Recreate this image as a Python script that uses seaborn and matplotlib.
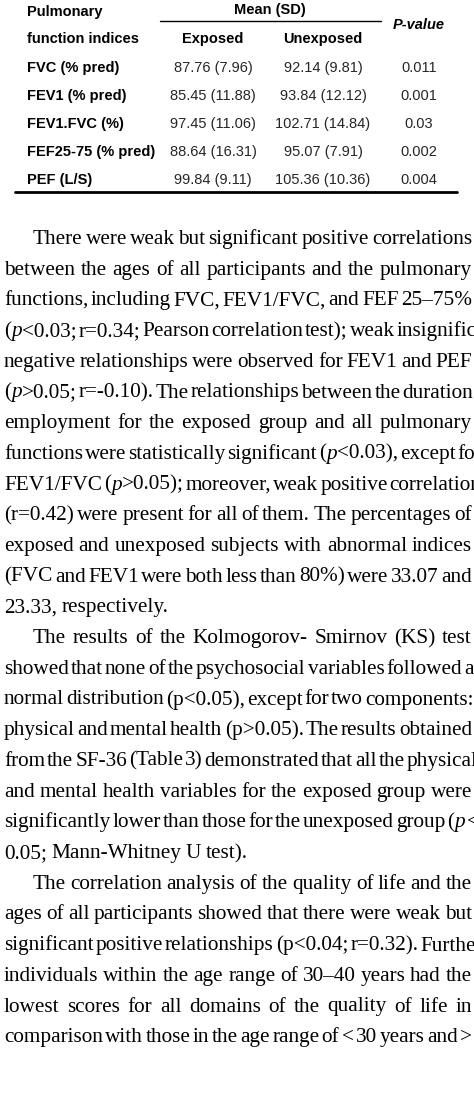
import numpy as np
import pandas as pd
import seaborn as sns
import matplotlib.pyplot as plt

# table data
indices = ["FVC (% pred)", "FEV1 (% pred)", "FEV1.FVC (%)", "FEF25-75 (% pred)", "PEF (L/S)"]
exposed = ["87.76 (7.96)", "85.45 (11.88)", "97.45 (11.06)", "88.64 (16.31)", "99.84 (9.11)"]
unexposed = ["92.14 (9.81)", "93.84 (12.12)", "102.71 (14.84)", "95.07 (7.91)", "105.36 (10.36)"]
pvalues = ["0.011", "0.001", "0.03", "0.002", "0.004"]

# body text lines: (text, indent, justify); *x* = italic
lines = [
    ("There were weak but significant positive correlations", True, True),
    ("between the ages of all participants and the pulmonary", False, True),
    ("functions, including FVC, FEV1/FVC, and FEF 25–75%", False, True),
    ("(*p*<0.03; r=0.34; Pearson correlation test); weak insignificant", False, True),
    ("negative relationships were observed for FEV1 and PEF", False, True),
    ("(*p*>0.05; r=-0.10). The relationships between the duration of", False, True),
    ("employment for the exposed group and all pulmonary", False, True),
    ("functions were statistically significant (*p*<0.03), except for", False, True),
    ("FEV1/FVC (*p*>0.05); moreover, weak positive correlations", False, True),
    ("(r=0.42) were present for all of them. The percentages of", False, True),
    ("exposed and unexposed subjects with abnormal indices", False, True),
    ("(FVC and FEV1 were both less than 80%) were 33.07 and", False, True),
    ("23.33, respectively.", False, False),
    ("The results of the Kolmogorov- Smirnov (KS) test", True, True),
    ("showed that none of the psychosocial variables followed a", False, True),
    ("normal distribution (p<0.05), except for two components:", False, True),
    ("physical and mental health (p>0.05). The results obtained", False, True),
    ("from the SF-36 (Table 3) demonstrated that all the physical", False, True),
    ("and mental health variables for the exposed group were", False, True),
    ("significantly lower than those for the unexposed group (*p* <", False, True),
    ("0.05; Mann-Whitney U test).", False, False),
    ("The correlation analysis of the quality of life and the", True, True),
    ("ages of all participants showed that there were weak but", False, True),
    ("significant positive relationships (p<0.04; r=0.32). Further,", False, True),
    ("individuals within the age range of 30–40 years had the", False, True),
    ("lowest scores for all domains of the quality of life in", False, True),
    ("comparison with those in the age range of < 30 years and >", False, True),
]

sns.set_theme(style="white")
plt.rcParams['font.family'] = ['Liberation Sans', 'DejaVu Sans']

fig = plt.figure(figsize=(4.74, 10.94), dpi=100)
ax = fig.add_axes([0, 0, 1, 1])
ax.set_xlim(0, 474)
ax.set_ylim(1094, 0)
ax.axis("off")

tfs = 10.5
hd = dict(fontsize=tfs, fontweight="bold", va="center", color="black")
ax.text(27, 12, "Pulmonary", **hd)
ax.text(27, 39, "function indices", **hd)
ax.text(270, 10, "Mean (SD)", ha="center", **hd)
ax.plot([160, 381], [21, 21], color="black", lw=1)
ax.text(213, 39, "Exposed", ha="center", **hd)
ax.text(323, 39, "Unexposed", ha="center", **hd)
ax.text(419, 25, "P-value", ha="center", style="italic", **hd)

df = pd.DataFrame({"idx": indices, "exp": exposed, "unexp": unexposed, "p": pvalues})
for i, row in df.iterrows():
    y = 68 + i * 28
    ax.text(27, y, row["idx"], **hd)
    ax.text(213, y, row["exp"], ha="center", va="center", fontsize=tfs)
    ax.text(323, y, row["unexp"], ha="center", va="center", fontsize=tfs)
    ax.text(419, y, row["p"], ha="center", va="center", fontsize=tfs)
ax.plot([15, 457], [192, 192], color="black", lw=2)

# body text, justified
fig.canvas.draw()
renderer = fig.canvas.get_renderer()
fs = 15.3
left, right = 4, 472
space = 4.5


def segs(word):
    parts = word.split("*")
    return [(p, k % 2 == 1) for k, p in enumerate(parts) if p]


def draw_word(x, y, word, measure_only=False):
    w_total = 0
    for s, it in segs(word):
        t = ax.text(x + w_total, y, s, fontsize=fs, family="Liberation Serif",
                    style="italic" if it else "normal", va="baseline", color="black")
        w_total += t.get_window_extent(renderer).width
        if measure_only:
            t.remove()
    return w_total


for i, (txt, indent, just) in enumerate(lines):
    y = 244 + i * 30.7
    x0 = left + (29 if indent else 0)
    words = txt.split(" ")
    widths = [draw_word(0, y, w, True) for w in words]
    if just and len(words) > 1:
        gap = max(2.0, (right - x0 - sum(widths)) / (len(words) - 1))
    else:
        gap = space
    x = x0
    for w, wd in zip(words, widths):
        draw_word(x, y, w)
        x += wd + gap

fig.savefig("out.png", dpi=100, facecolor="white")
